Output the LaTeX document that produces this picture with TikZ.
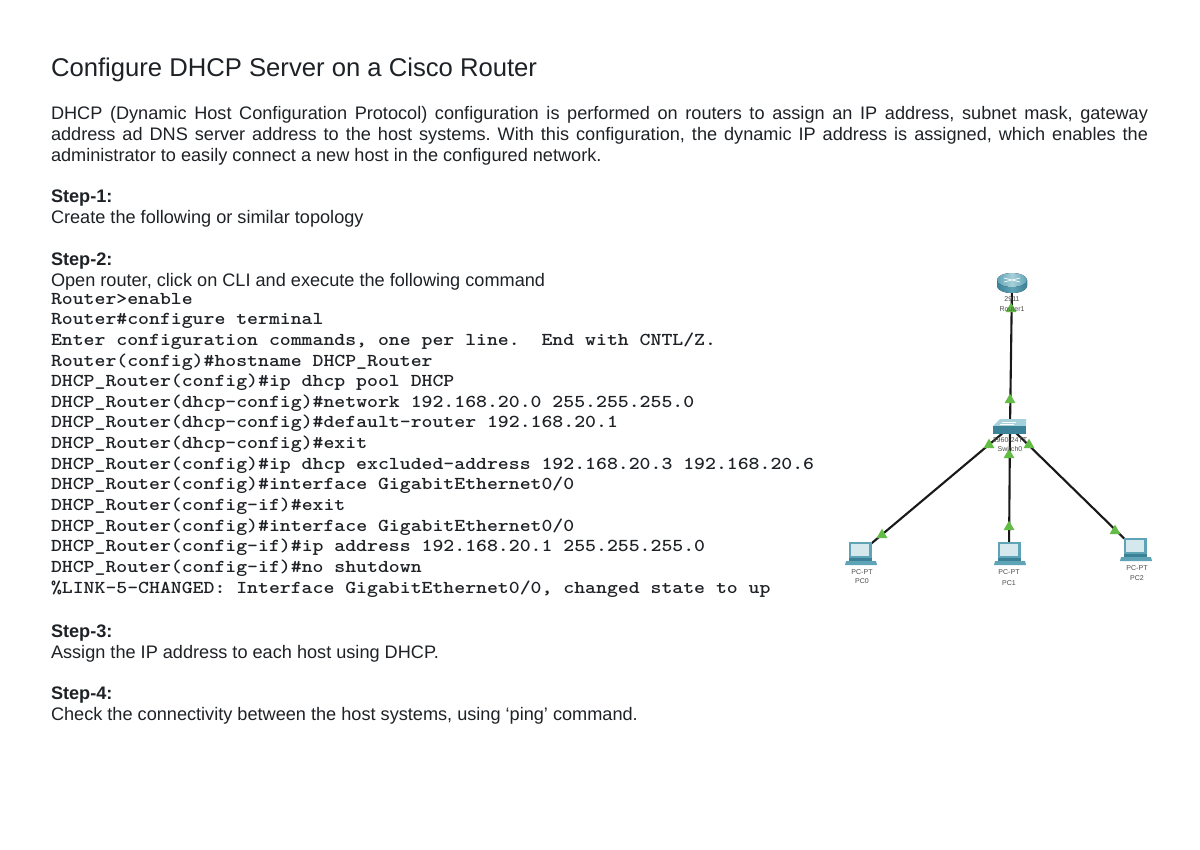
\documentclass[tikz,border=0pt]{standalone}
\usepackage{fontspec}
\setmainfont{Liberation Sans}
\setmonofont{Latin Modern Mono Light}[FakeStretch=1.143]
\usetikzlibrary{positioning,calc,shapes.geometric}
\definecolor{inkdark}{HTML}{1E2226}
\definecolor{linkgreen}{HTML}{63BC46}
\definecolor{teallight}{HTML}{A6D0DA}
\definecolor{tealmid}{HTML}{5FA3B6}
\definecolor{tealdark}{HTML}{3B8198}
\definecolor{screenblue}{HTML}{D5E8EE}
\frenchspacing
\tikzset{
	bodytext/.style={anchor=north west, inner sep=0pt, outer sep=0pt, text=inkdark, align=left, font=\fontsize{12.9}{14.9}\selectfont},
	cmdtext/.style={anchor=north west, inner sep=0pt, outer sep=0pt, text=inkdark, align=left, font=\fontsize{12.92}{14.68}\selectfont\ttfamily\bfseries},
	devbox/.style={inner sep=0pt, outer sep=0pt, minimum width=#1, minimum height=20pt},
	devlabel/.style={inner sep=0pt, text=black!70, font=\fontsize{5}{6}\selectfont},
	link/.style={line width=1.5pt, black!90},
	linkup/.style={regular polygon, regular polygon sides=3, fill=linkgreen, inner sep=0pt, minimum size=9pt},
	pics/routericon/.style={code={
		\fill[left color=tealdark, right color=tealdark, middle color=tealmid] (-15,-3) -- (-15,3) arc[start angle=180, end angle=0, x radius=15, y radius=7] -- (15,-3) -- cycle;
		\fill[left color=tealmid, right color=tealmid, middle color=teallight] (0,-3) ellipse[x radius=15, y radius=7];
		\draw[white, line width=.5pt] (-8,-5) -- (8,-1) (-8,-1) -- (8,-5);
	}},
	pics/switchicon/.style={code={
		\fill[teallight] (-17,-1) -- (-10,-8) -- (16,-8) -- (16,-1) -- cycle;
		\fill[tealdark] (-17,-1) rectangle (16,7);
		\draw[white, line width=.3pt] (-8,-5) -- (6,-5) (-10,-3) -- (4,-3);
	}},
	pics/pcicon/.style={code={
		\fill[tealmid] (-11,-11) rectangle (12,5);
		\fill[screenblue] (-9,-9) rectangle (9,3);
		\fill[tealdark] (-11,5) rectangle (12,8);
		\fill[tealmid] (-14,8) -- (16,8) -- (17,12) -- (-15,12) -- cycle;
	}},
}
\begin{document}
\begin{tikzpicture}[x=0.025cm, y=-0.025cm]
	\useasboundingbox (0,0) rectangle (1200,849);
	\fill[white] (0,0) rectangle (1200,849);

	\node[bodytext, font=\fontsize{18.24}{21}\selectfont] (title) at (51,58) {Configure DHCP Server on a Cisco Router};
	\node[bodytext, text width=1097*0.025cm, align=justify] (intro) at (51,106) {DHCP (Dynamic Host Configuration Protocol) configuration is performed on routers to assign an IP address, subnet mask, gateway\linebreak address ad DNS server address to the host systems. With this configuration, the dynamic IP address is assigned, which enables the\linebreak administrator to easily connect a new host in the configured network.};
	\node[bodytext] (step1) at (51,190) {\textbf{Step-1:}\\Create the following or similar topology};
	\node[bodytext] (step2) at (51,253) {\textbf{Step-2:}\\Open router, click on CLI and execute the following command};
	\node[cmdtext] (config) at (51,293) {Router>enable\\
		Router\#configure terminal\\
		Enter configuration commands, one per line.\ \ End with CNTL/Z.\\
		Router(config)\#hostname DHCP\_Router\\
		DHCP\_Router(config)\#ip dhcp pool DHCP\\
		DHCP\_Router(dhcp-config)\#network 192.168.20.0 255.255.255.0\\
		DHCP\_Router(dhcp-config)\#default-router 192.168.20.1\\
		DHCP\_Router(dhcp-config)\#exit\\
		DHCP\_Router(config)\#ip dhcp excluded-address 192.168.20.3 192.168.20.6\\
		DHCP\_Router(config)\#interface GigabitEthernet0/0\\
		DHCP\_Router(config-if)\#exit\\
		DHCP\_Router(config)\#interface GigabitEthernet0/0\\
		DHCP\_Router(config-if)\#ip address 192.168.20.1 255.255.255.0\\
		DHCP\_Router(config-if)\#no shutdown\\
		\%LINK-5-CHANGED: Interface GigabitEthernet0/0, changed state to up};
	\node[bodytext] (step3) at (51,624.5) {\textbf{Step-3:}\\Assign the IP address to each host using DHCP.};
	\node[bodytext] (step4) at (51,687) {\textbf{Step-4:}\\Check the connectivity between the host systems, using ‘ping’ command.};

	\node[devbox=20pt] (router) at (1012,283) {};
	\node[devbox=20pt] (switch) at (1010,427) {};
	\node[devbox=16pt] (pc0) at (860,553) {};
	\node[devbox=16pt] (pc1) at (1009,553) {};
	\node[devbox=16pt] (pc2) at (1135,549) {};

	\draw[link] (router.center) -- (switch.center);
	\draw[link] (switch.center) -- (pc0.center);
	\draw[link] (switch.center) -- (pc1.center);
	\draw[link] (switch.center) -- (pc2.center);

	\pic at (router) {routericon};
	\pic at (switch) {switchicon};
	\pic at (pc0) {pcicon};
	\pic at (pc1) {pcicon};
	\pic at (pc2) {pcicon};

	\foreach \n/\p/\q in {a/1011/309, b/1010/400, c/989/445, d/1009/455, e/1029/445, f/882/535, g/1009/527, h/1115/531}
		\node[linkup] (up\n) at (\p,\q) {};

	\node[devlabel] (routertype) at (1012,299) {2911};
	\node[devlabel] (routername) at (1012,309) {Router1};
	\node[devlabel] (switchtype) at (1010,440) {2960-24TT};
	\node[devlabel] (switchname) at (1010,449) {Switch0};
	\node[devlabel] (pc0type) at (862,572) {PC-PT};
	\node[devlabel] (pc0name) at (862,581) {PC0};
	\node[devlabel] (pc1type) at (1009,572) {PC-PT};
	\node[devlabel] (pc1name) at (1009,583) {PC1};
	\node[devlabel] (pc2type) at (1137,568) {PC-PT};
	\node[devlabel] (pc2name) at (1137,578) {PC2};
\end{tikzpicture}
\end{document}
